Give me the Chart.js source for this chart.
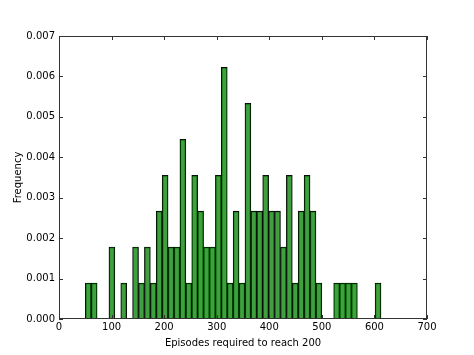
<!DOCTYPE html>
<html>
<head>
<meta charset="utf-8">
<script src="https://cdn.jsdelivr.net/npm/chart.js@4.4.1/dist/chart.umd.min.js"></script>
<style>
  html, body { margin: 0; padding: 0; background: #fff; }
  #wrap { width: 474px; height: 355px; }
</style>
</head>
<body>
<div id="wrap"><canvas id="grafica"></canvas></div>
<script>
// histograma: 100 episodios, 50 bins desde 50 hasta 612.5
const binStart = 50;
const binWidth = 11.25;
const counts = [1, 1, 0, 0, 2, 0, 1, 0, 2, 1,
                2, 1, 3, 4, 2, 2, 5, 1, 4, 3,
                2, 2, 4, 7, 1, 3, 1, 6, 3, 3,
                4, 3, 3, 2, 4, 1, 3, 4, 3, 1,
                0, 0, 1, 1, 1, 1, 0, 0, 0, 1];
const xTicks = [0, 100, 200, 300, 400, 500, 600, 700];
const yTicks = [0, 0.001, 0.002, 0.003, 0.004, 0.005, 0.006, 0.007];

const total = counts.reduce((a, b) => a + b, 0);
const puntos = counts.map((c, i) => ({
  x: binStart + binWidth * (i + 0.5),
  y: c / (total * binWidth)
}));

const fuente = { family: 'DejaVu Sans', size: 10 };

// marco y ticks hacia dentro, estilo matplotlib
const marco = {
  id: 'marco',
  afterDraw(chart) {
    const { ctx, chartArea: a, scales } = chart;
    ctx.save();
    ctx.strokeStyle = '#333';
    ctx.lineWidth = 1;
    ctx.strokeRect(a.left + 0.5, a.top + 0.5, a.right - a.left - 1, a.bottom - a.top - 1);
    ctx.beginPath();
    xTicks.forEach(v => {
      const px = Math.round(scales.x.getPixelForValue(v)) + 0.5;
      ctx.moveTo(px, a.bottom); ctx.lineTo(px, a.bottom - 4);
      ctx.moveTo(px, a.top); ctx.lineTo(px, a.top + 4);
    });
    yTicks.forEach(v => {
      const py = Math.round(scales.y.getPixelForValue(v)) + 0.5;
      ctx.moveTo(a.left, py); ctx.lineTo(a.left + 4, py);
      ctx.moveTo(a.right, py); ctx.lineTo(a.right - 4, py);
    });
    ctx.stroke();
    ctx.restore();
  }
};

new Chart(document.getElementById('grafica'), {
  type: 'bar',
  data: {
    datasets: [{
      label: 'Frequency',
      data: puntos,
      backgroundColor: 'rgba(0,128,0,0.75)',
      borderColor: '#000',
      borderWidth: 0.8,
      barPercentage: 1,
      categoryPercentage: 1,
      grouped: false
    }]
  },
  options: {
    responsive: true,
    maintainAspectRatio: false,
    animation: false,
    layout: { padding: { top: 36, right: 47, left: 12, bottom: 0 } },
    plugins: {
      legend: { display: false },
      tooltip: { enabled: false }
    },
    scales: {
      x: {
        type: 'linear',
        min: 0,
        max: 700,
        offset: false,
        grid: { display: false, drawTicks: false, offset: false },
        border: { display: false },
        afterBuildTicks: s => { s.ticks = xTicks.map(v => ({ value: v })); },
        afterFit: s => { s.height = 36; },
        ticks: { color: '#000', font: fuente, padding: 2, maxRotation: 0 },
        title: { display: true, text: 'Episodes required to reach 200', color: '#000', font: fuente, padding: { top: 0, bottom: 6 } }
      },
      y: {
        min: 0,
        max: 0.007,
        grid: { display: false, drawTicks: false },
        border: { display: false },
        afterBuildTicks: s => { s.ticks = yTicks.map(v => ({ value: v })); },
        afterFit: s => { s.width = 47; },
        ticks: { color: '#000', font: fuente, padding: 4, callback: v => v.toFixed(3) },
        title: { display: true, text: 'Frequency', color: '#000', font: fuente, padding: 0 }
      }
    }
  },
  plugins: [marco]
});
</script>
</body>
</html>
